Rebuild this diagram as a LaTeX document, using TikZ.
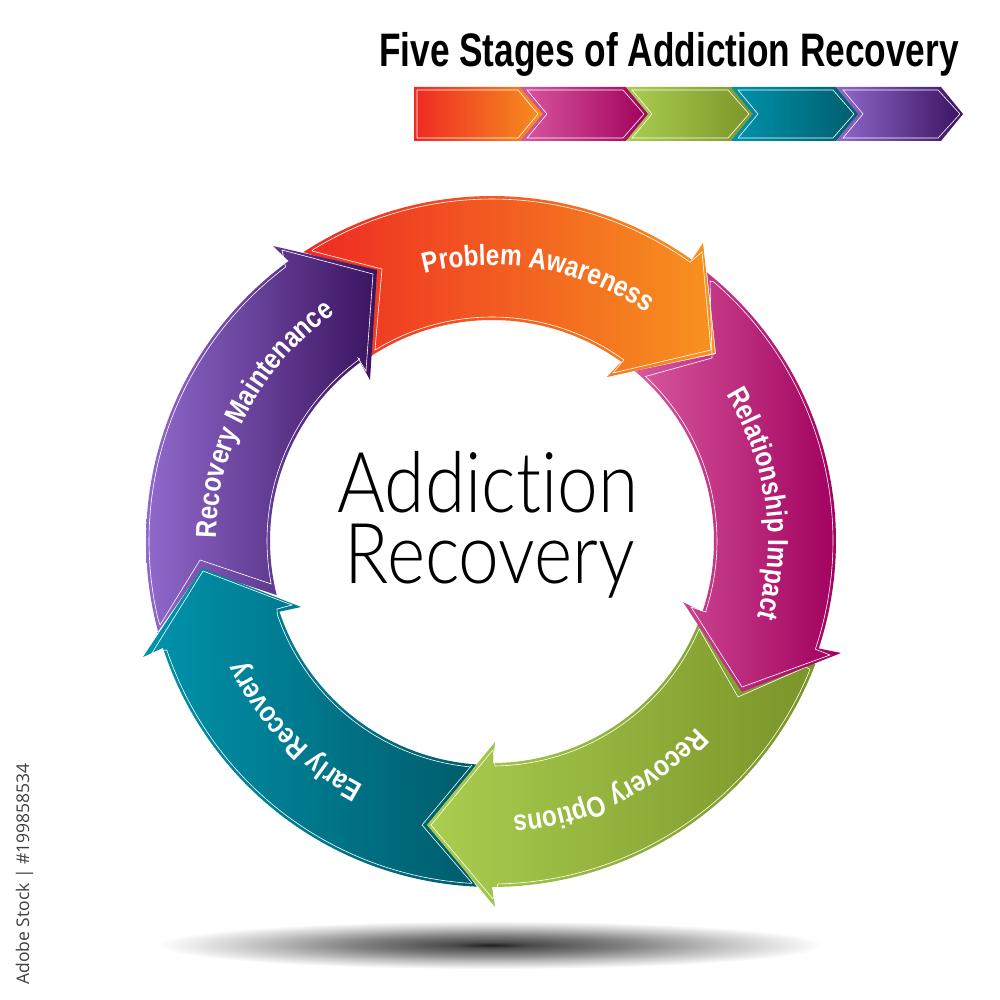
\documentclass[tikz,border=0pt]{standalone}
\usepackage{fontspec}
\setmainfont{Liberation Sans}
\newfontfamily\cond[FakeStretch=0.75]{Liberation Sans}
\newfontfamily\labelfont[FakeStretch=0.84]{Liberation Sans}
\newfontfamily\centrefont[FakeStretch=0.87,Ligatures=NoCommon]{Lato Light}
\newfontfamily\stockfont{Open Sans}
\usetikzlibrary{decorations.text}
\definecolor{redA}{HTML}{EE2A24}\definecolor{redB}{HTML}{F7931E}
\definecolor{pinkA}{HTML}{D8589F}\definecolor{pinkB}{HTML}{A0005C}
\definecolor{greenA}{HTML}{AACE50}\definecolor{greenB}{HTML}{7A9428}
\definecolor{tealA}{HTML}{0093AD}\definecolor{tealB}{HTML}{005C6B}
\definecolor{purpA}{HTML}{9069CC}\definecolor{purpB}{HTML}{3A1360}
\pgfdeclareradialshading{blob}{\pgfpoint{0bp}{0bp}}{color(0bp)=(black!88); color(3bp)=(black!70); color(10bp)=(black!50); color(18bp)=(black!22); color(25bp)=(white); color(50bp)=(white)}
\newcommand\ringarc[3]{-- plot[domain=#2:#3,samples=50] ({492+#1*cos(\x)},{541-#1*sin(\x)})}
\newcommand\curvelabel[3]{\path[decorate,decoration={text along path,text align=center,text={|\labelfont\bfseries\fontsize{29}{29}\selectfont\color{white}|#1}}] plot[domain=#2:#3,samples=60] ({492+276*cos(\x)},{541-276*sin(\x)});}
\tikzset{innerline/.style={draw=white,line width=0.6pt,line join=miter}}
\begin{document}
\begin{tikzpicture}[x=1pt,y=-1pt]
\useasboundingbox (0,0) rectangle (1000,1000);
\fill[white] (0,0) rectangle (1000,1000);
% title
\node[anchor=base,font=\cond\bfseries\fontsize{47}{47}\selectfont,text=black,inner sep=0pt] (title) at (669,67) {Five Stages of Addiction Recovery};
% legend chevrons
\shade[left color=redA,right color=redB] (414,87)--(520,87)--(547,114)--(520,141)--(414,141)--cycle;
\shade[left color=pinkA,right color=pinkB] (520,87)--(626,87)--(650,114)--(626,141)--(520,141)--(543,114)--cycle;
\shade[left color=greenA,right color=greenB] (626,87)--(731,87)--(757,114)--(731,141)--(626,141)--(648,114)--cycle;
\shade[left color=tealA,right color=tealB] (731,87)--(836,87)--(860,114)--(836,141)--(731,141)--(753,114)--cycle;
\shade[left color=purpA,right color=purpB] (836,87)--(941,87)--(963,114)--(941,141)--(836,141)--(858,114)--cycle;
\draw[innerline] (417,90)--(518,90)--(538,114)--(518,138)--(417,138)--cycle;
\draw[innerline] (527,90)--(623,90)--(644,114)--(623,138)--(527,138)--(547,114)--cycle;
\draw[innerline] (632,90)--(728,90)--(749,114)--(728,138)--(632,138)--(652,114)--cycle;
\draw[innerline] (738,90)--(833,90)--(854,114)--(833,138)--(738,138)--(758,114)--cycle;
\draw[innerline] (843,90)--(938,90)--(960,114)--(938,138)--(843,138)--(863,114)--cycle;
% ring arrows
\shade[left color=redA,right color=redB] (303,252) \ringarc{345}{123.2}{54.6} -- (703,243)--(715,353)--(607,377)--(620,363) \ringarc{221}{54}{123.5} -- (368,272)--cycle;
\draw[innerline] (312,251) \ringarc{342}{121.5}{54.6} -- (702,252)--(711,350)--(613,373)--(623,361) \ringarc{224}{54}{121.5} -- (382,269)--cycle;
\shade[left color=purpA,right color=purpB] (157,633) \ringarc{346}{195.4}{126} -- (273,246)--(377,270)--(370,380)--(360,362) \ringarc{222}{126.4}{194.1} -- (201,570)--cycle;
\draw[innerline] (160,625) \ringarc{343}{193}{127} -- (282,250)--(373,274)--(366,371)--(358,358) \ringarc{225}{126}{191} -- (200,560)--cycle;
\shade[left color=tealA,right color=tealB] (477,887) \ringarc{346}{267.5}{198} -- (143,657)--(202,568)--(301,607)--(278,612) \ringarc{224}{198.4}{266} -- (432,825)--cycle;
\draw[innerline] (472,883) \ringarc{343}{266.5}{198.5} -- (152,653)--(203,571)--(292,605)--(277,609) \ringarc{227}{199}{264.5} -- (472,765)--(422,825)--cycle;
\shade[left color=greenA,right color=greenB] (813,663) \ringarc{346}{339.2}{270} -- (495,907)--(427,825)--(495,742)--(493,763) \ringarc{222}{270}{338.2} -- (742,688)--cycle;
\draw[innerline] (806,667) \ringarc{343}{338}{271} -- (493,899)--(431,825)--(493,750)--(495,766) \ringarc{225}{271}{337} -- (738,697)--cycle;
\shade[left color=pinkA,right color=pinkB] (707,272) \ringarc{344}{51.4}{-18.2} -- (841,653)--(742,692)--(683,602)--(703,612) \ringarc{222}{-18.6}{50} -- (716,354)--cycle;
\draw[innerline] (710,281) \ringarc{341}{49.5}{-18.5} -- (830,655)--(742,687)--(691,607)--(706,612) \ringarc{225}{-18}{47} -- (712,358) --cycle;
% curved labels
\curvelabel{Problem Awareness}{105}{55}
\curvelabel{Relationship Impact}{32}{-16}
\curvelabel{Recovery Options}{-40}{-88}
\curvelabel{Early Recovery}{248}{200}
\curvelabel{Recovery Maintenance}{180}{124}
% centre
\node[anchor=base,font=\centrefont\fontsize{84}{84}\selectfont,inner sep=0pt] (centreA) at (488,512) {Addiction};
\node[anchor=base,font=\centrefont\fontsize{84}{84}\selectfont,inner sep=0pt] (centreB) at (490,583) {Recovery};
% shadow
\shade[shading=blob] (491,945) ellipse[x radius=333,y radius=24];
% stock label
\node[rotate=90,anchor=base,font=\stockfont\fontsize{17.5}{17.5}\selectfont,text=black!75,inner sep=0pt] (stock) at (29,874) {Adobe Stock | \#199858534};
\end{tikzpicture}
\end{document}
